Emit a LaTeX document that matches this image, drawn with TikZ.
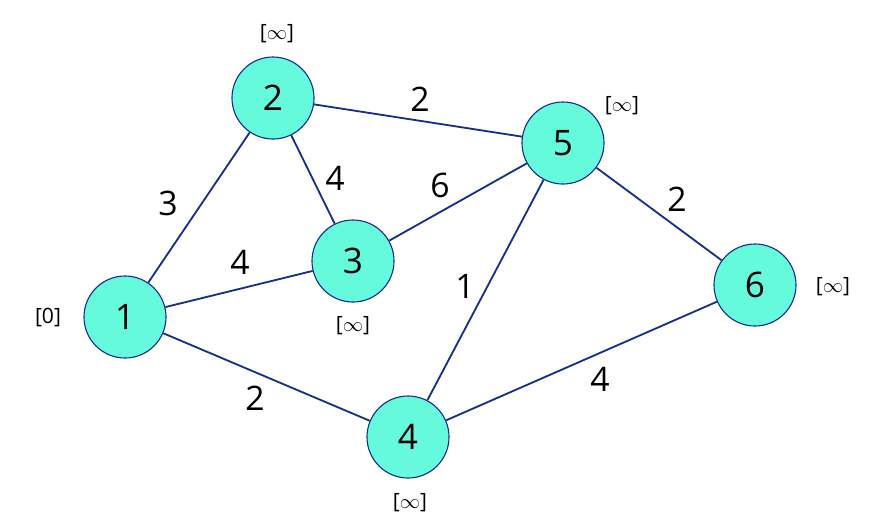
\documentclass[tikz,border=0pt]{standalone}
\usepackage{fontspec}
\setmainfont{Open Sans}

\definecolor{nodefill}{RGB}{102,250,220}
\definecolor{edgeblue}{RGB}{22,48,138}

\begin{document}
\begin{tikzpicture}[
  x=0.025cm, y=-0.025cm,
  vertex/.style={circle, fill=nodefill, draw=edgeblue, line width=0.8pt,
    minimum size=2.05cm, inner sep=0pt, font=\fontsize{25}{30}\selectfont},
  link/.style={draw=edgeblue, line width=1.3pt},
  weight/.style={font=\fontsize{24}{28}\selectfont},
  dist/.style={font=\fontsize{15}{18}\selectfont},
]
\useasboundingbox (0,0) rectangle (893,528);

% Vertices (pixel coordinates)
\foreach \n/\px/\py in {1/125/317, 2/273/98, 3/353/261, 4/408/437, 5/563/143, 6/755/285}
  \node[vertex] (v\n) at (\px,\py) {\n};

% Tentative distances
\node[dist] (d1) at (48,318)  {[0]};
\node[dist] (d2) at (277,34)  {[$\infty$]};
\node[dist] (d3) at (353,326) {[$\infty$]};
\node[dist] (d4) at (410,503) {[$\infty$]};
\node[dist] (d5) at (622,106) {[$\infty$]};
\node[dist] (d6) at (833,287) {[$\infty$]};

% Edges with weights
\foreach \a/\b/\w/\lx/\ly in {1/2/3/168/203, 1/3/4/240/262, 1/4/2/255/398,
    2/5/2/420/99, 2/3/4/335/178, 3/5/6/440/185, 4/5/1/465/286,
    5/6/2/677/199, 4/6/4/600/379} {
  \draw[link] (v\a) -- (v\b);
  \node[weight] (w\a\b) at (\lx,\ly) {\w};
}

\end{tikzpicture}
\end{document}
